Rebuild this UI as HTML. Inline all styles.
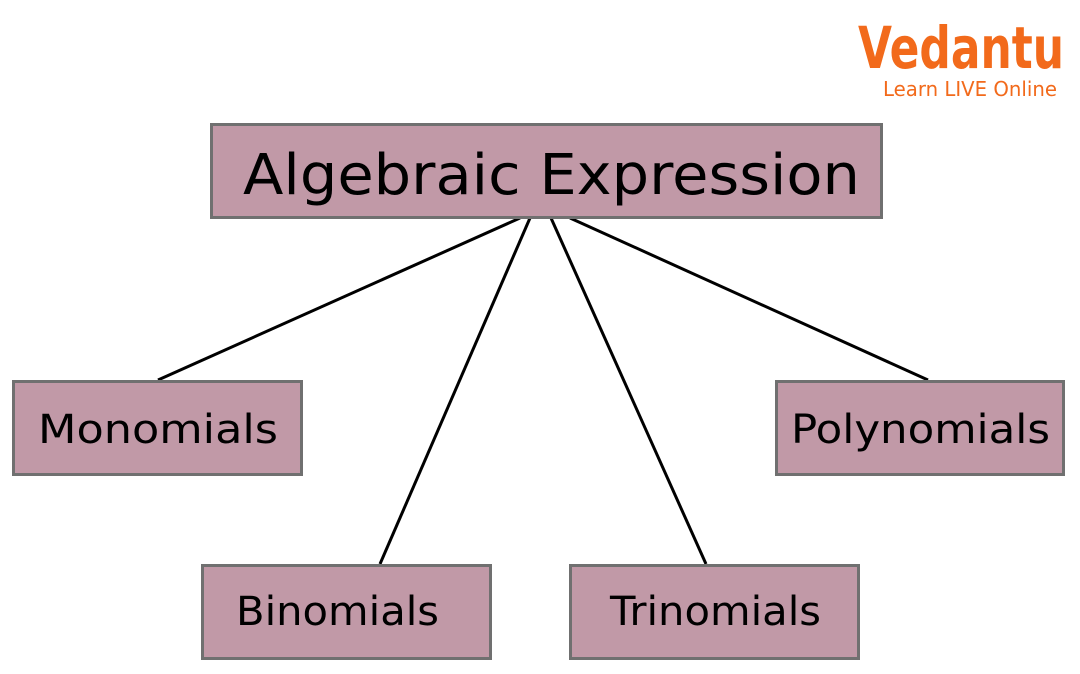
<!DOCTYPE html>
<html><head><style>
html,body{margin:0;padding:0;background:#fff;width:1080px;height:674px;overflow:hidden}
</style></head><body>
<svg width="1080" height="674" xmlns="http://www.w3.org/2000/svg" style="display:block">
<g stroke="#000" stroke-width="3">
<line x1="520" y1="218" x2="158" y2="380"/>
<line x1="530" y1="218" x2="380" y2="564"/>
<line x1="551" y1="218" x2="706" y2="564"/>
<line x1="570" y1="218" x2="928" y2="380"/>
</g>
<g fill="#c199a7" stroke="#707070" stroke-width="3">
<rect x="211.5" y="124.5" width="670" height="93"/>
<rect x="13.5" y="381.5" width="288" height="93"/>
<rect x="776.5" y="381.5" width="287" height="93"/>
<rect x="202.5" y="565.5" width="288" height="93"/>
<rect x="570.5" y="565.5" width="288" height="93"/>
</g>
<g font-family="DejaVu Sans, sans-serif" fill="#000">
<text x="243" y="194" font-size="56" textLength="617" lengthAdjust="spacingAndGlyphs">Algebraic Expression</text>
<text x="38" y="443" font-size="40" textLength="240" lengthAdjust="spacingAndGlyphs">Monomials</text>
<text x="791" y="443" font-size="40" textLength="259" lengthAdjust="spacingAndGlyphs">Polynomials</text>
<text x="236" y="625" font-size="40" textLength="203" lengthAdjust="spacingAndGlyphs">Binomials</text>
<text x="610" y="625" font-size="40" textLength="211" lengthAdjust="spacingAndGlyphs">Trinomials</text>
</g>
<g fill="#f26a1b" font-family="DejaVu Sans, sans-serif">
<text x="858" y="68" font-size="58" font-weight="bold" textLength="206" lengthAdjust="spacingAndGlyphs">Vedantu</text>
<text x="883" y="96" font-size="20" textLength="174" lengthAdjust="spacingAndGlyphs">Learn LIVE Online</text>
</g>
</svg>
</body></html>
